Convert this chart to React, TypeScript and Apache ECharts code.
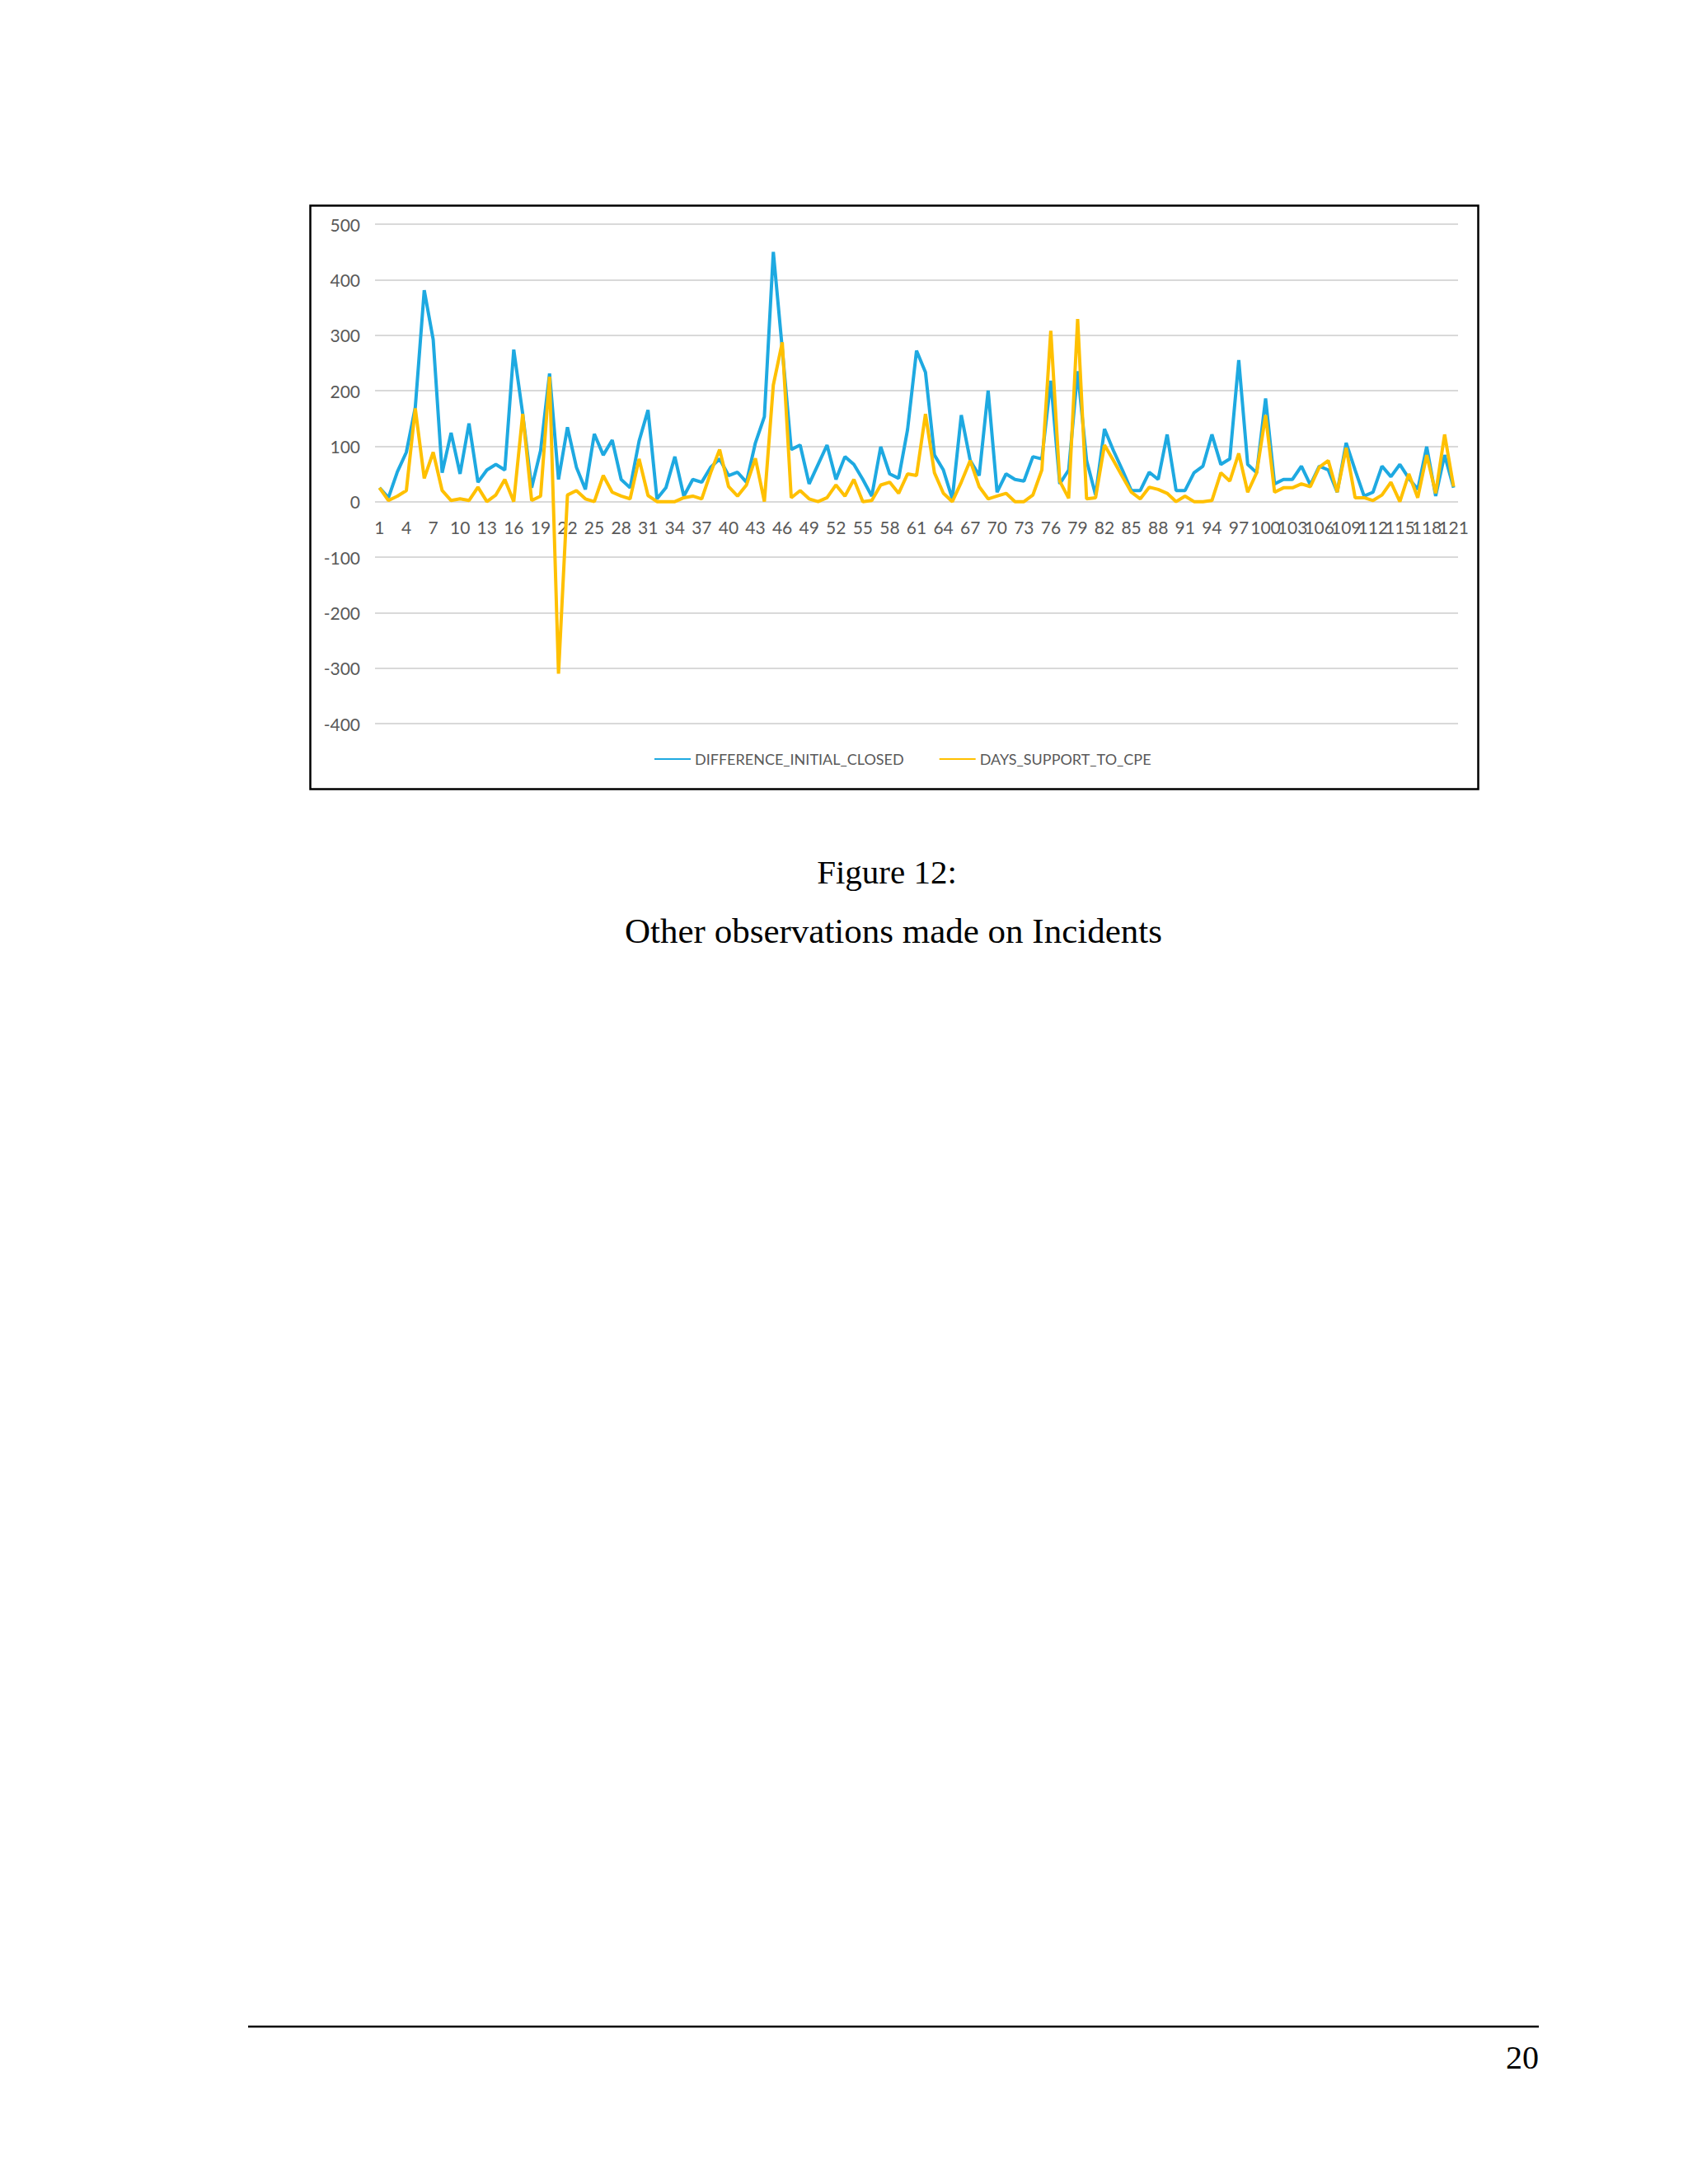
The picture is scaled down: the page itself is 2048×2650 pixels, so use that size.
import React, { useEffect, useRef } from 'react'
import * as echarts from 'echarts'

// values (121 incidents)
const differenceInitialClosed = [
  25, 7, 54, 89, 170, 381, 292, 52, 124, 50,
  141, 35, 57, 67, 57, 274, 158, 25, 92, 231,
  40, 134, 62, 22, 122, 84, 111, 40, 25, 109,
  165, 5, 25, 81, 10, 40, 35, 62, 77, 47,
  53, 35, 106, 153, 450, 275, 94, 102, 32, 67,
  102, 40, 81, 67, 40, 10, 99, 50, 42, 130,
  272, 233, 84, 57, 5, 156, 74, 47, 200, 17,
  50, 40, 37, 81, 77, 218, 32, 57, 235, 74,
  12, 131, 92, 57, 20, 20, 53, 40, 121, 20,
  20, 52, 64, 121, 67, 77, 255, 67, 52, 186,
  32, 40, 40, 64, 30, 64, 57, 17, 106, 57,
  10, 17, 64, 45, 67, 42, 22, 99, 10, 84,
  25,
]

const daysSupportToCpe = [
  25, 2, 10, 20, 168, 42, 89, 20, 2, 5,
  2, 26, 0, 12, 40, 0, 158, 2, 10, 225,
  -310, 12, 20, 5, 0, 47, 17, 10, 5, 77,
  11, 0, 0, 0, 7, 10, 5, 52, 94, 27,
  10, 30, 78, 0, 210, 287, 7, 20, 5, 0,
  7, 30, 10, 40, 0, 2, 30, 35, 15, 50,
  47, 158, 52, 15, 0, 35, 74, 27, 5, 10,
  15, 0, 0, 12, 57, 308, 37, 6, 329, 5,
  7, 102, 74, 45, 17, 5, 26, 22, 15, 0,
  10, 0, 0, 2, 52, 37, 87, 17, 52, 156,
  17, 25, 25, 32, 27, 62, 74, 17, 97, 7,
  7, 2, 12, 35, 0, 50, 7, 84, 15, 121,
  27,
]

const categories = differenceInitialClosed.map((_, i) => String(i + 1))

const seriesNames = ['DIFFERENCE_INITIAL_CLOSED', 'DAYS_SUPPORT_TO_CPE']
const colors = ['#1EA9E1', '#FFC000']

const yMin = -400
const yMax = 500
const yStep = 100
const labelEvery = 3

const captionTitle = 'Figure 12:'
const captionText = 'Other observations made on Incidents'
const pageNumber = '20'

const axisFont = 'Lato'
const labelColor = '#595959'
const gridColor = '#d9d9d9'

// plot area in page pixels
const plotTop = 272
const plotBottom = 878
const zeroOffset = -((plotBottom - plotTop) * (0 - yMin)) / (yMax - yMin)

// the labels crowd (and overlap) at the right end; echarts would drop
// some of them, so every other label goes on a second, identical axis
const baseXAxis = {
  type: 'category',
  data: categories,
  boundaryGap: true,
  position: 'bottom',
  offset: zeroOffset,
  axisLine: { show: false, onZero: false },
  axisTick: { show: false },
  splitLine: { show: false }
}

const baseLabel = {
  margin: 20,
  fontFamily: axisFont,
  fontSize: 21,
  color: labelColor,
  showMinLabel: true,
  showMaxLabel: true
}

const labelFilter = (parity: number) => (index: number) =>
  index % labelEvery === 0 && (index / labelEvery) % 2 === parity

export default function App() {
  const chartRef = useRef<HTMLDivElement>(null)

  useEffect(() => {
    if (!chartRef.current) {
      return
    }

    const chart = echarts.init(chartRef.current, null, { renderer: 'svg' })

    const option = {
      animation: false,
      backgroundColor: '#ffffff',
      grid: {
        left: 455,
        right: 279,
        top: plotTop,
        bottom: 2650 - plotBottom,
        containLabel: false
      },
      legend: {
        left: 789,
        top: 907,
        itemWidth: 44,
        itemHeight: 14,
        itemGap: 43,
        icon: 'path://M0,6 L44,6 L44,8 L0,8 Z',
        textStyle: {
          fontFamily: axisFont,
          fontSize: 18,
          color: labelColor
        },
        data: seriesNames
      },
      xAxis: [
        {
          ...baseXAxis,
          axisLabel: { ...baseLabel, interval: labelFilter(0) }
        },
        {
          ...baseXAxis,
          axisLabel: { ...baseLabel, interval: labelFilter(1) }
        }
      ],
      yAxis: {
        type: 'value',
        min: yMin,
        max: yMax,
        interval: yStep,
        axisLine: {
          show: false
        },
        axisTick: {
          show: false
        },
        axisLabel: {
          margin: 18,
          fontFamily: axisFont,
          fontSize: 21,
          color: labelColor
        },
        splitLine: {
          lineStyle: {
            color: gridColor,
            width: 2
          }
        }
      },
      series: [
        {
          name: seriesNames[0],
          type: 'line',
          xAxisIndex: 0,
          data: differenceInitialClosed,
          symbol: 'none',
          smooth: false,
          lineStyle: {
            color: colors[0],
            width: 4
          },
          itemStyle: {
            color: colors[0]
          }
        },
        {
          name: seriesNames[1],
          type: 'line',
          xAxisIndex: 0,
          data: daysSupportToCpe,
          symbol: 'none',
          smooth: false,
          lineStyle: {
            color: colors[1],
            width: 4
          },
          itemStyle: {
            color: colors[1]
          }
        }
      ],
      graphic: [
        {
          type: 'rect',
          shape: { x: 376.5, y: 249.5, width: 1417, height: 708 },
          style: { fill: 'none', stroke: '#000000', lineWidth: 2.5 }
        },
        {
          type: 'text',
          style: {
            text: captionTitle,
            x: 1076,
            y: 1058,
            font: '41px "Liberation Serif"',
            fill: '#000000',
            textAlign: 'center',
            textVerticalAlign: 'middle'
          }
        },
        {
          type: 'text',
          style: {
            text: captionText,
            x: 1084,
            y: 1129,
            font: '43px "Liberation Serif"',
            fill: '#000000',
            textAlign: 'center',
            textVerticalAlign: 'middle'
          }
        },
        {
          type: 'line',
          shape: { x1: 301, y1: 2459, x2: 1867, y2: 2459 },
          style: { stroke: '#000000', lineWidth: 2.7 }
        },
        {
          type: 'text',
          style: {
            text: pageNumber,
            x: 1867,
            y: 2496,
            font: '40px "Liberation Serif"',
            fill: '#000000',
            textAlign: 'right',
            textVerticalAlign: 'middle'
          }
        }
      ]
    }

    chart.setOption(option)

    return () => {
      chart.dispose()
    }
  }, [])

  return (
    <div
      ref={chartRef}
      style={{ position: 'absolute', left: 0, top: 0, width: 2048, height: 2650 }}
    />
  )
}
